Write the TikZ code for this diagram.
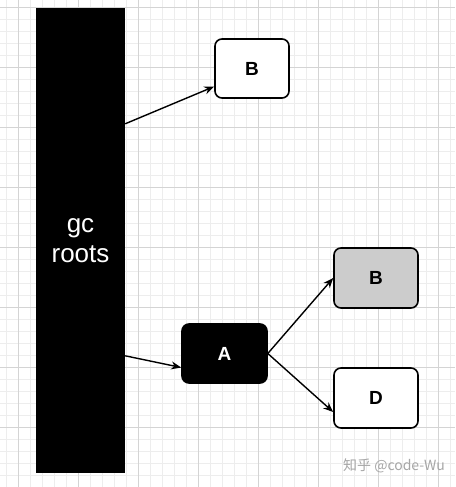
\documentclass[tikz,border=0pt]{standalone}
\usepackage{fontspec}
\setmainfont{Liberation Sans}
\newfontfamily\cjkfont{Noto Sans CJK SC}
\usetikzlibrary{arrows.meta, positioning}

\tikzset{
    objbox/.style={draw=black, line width=1.6pt, rounded corners=7pt, minimum width=84pt, minimum height=60pt, inner sep=0pt, font=\fontsize{19}{21}\selectfont\bfseries},
    refarrow/.style={-{Stealth[length=10pt, width=8pt]}, line width=1.4pt}
}

\begin{document}
\begin{tikzpicture}[x=1pt, y=-1pt]
    \useasboundingbox (0,0) rectangle (455,487);
    \fill[white] (0,0) rectangle (455,487);

    % grid
    \foreach \gx in {6,18,...,455} {
        \draw[black!7, line width=0.6pt] (\gx,0) -- (\gx,487);
    }
    \foreach \gy in {7,19,...,487} {
        \draw[black!7, line width=0.6pt] (0,\gy) -- (455,\gy);
    }
    \foreach \gx in {18,78,...,455} {
        \draw[black!17, line width=0.8pt] (\gx,0) -- (\gx,487);
    }
    \foreach \gy in {7,67,...,487} {
        \draw[black!17, line width=0.8pt] (0,\gy) -- (455,\gy);
    }

    % gc roots
    \node[fill=black, minimum width=89pt, minimum height=465pt, inner sep=0pt, text=white, align=center, font=\fontsize{26}{30}\selectfont] (roots) at (80.5,240.5) {gc\\roots};

    % objects
    \node[objbox, fill=white, minimum width=74pt, minimum height=59pt] (btop) at (252,68.5) {B};
    \node[objbox, fill=black, text=white, minimum width=85pt, minimum height=59pt] (a) at (224.5,353.5) {A};
    \node[objbox, fill=black!20] (bgray) at (376,278) {B};
    \node[objbox, fill=white] (d) at (376,398) {D};

    % references
    \draw[refarrow] ([yshift=-116pt]roots.north east) -- ([yshift=-18pt]btop.west);
    \draw[refarrow] ([yshift=-348pt]roots.north east) -- ([yshift=-14pt]a.west);
    \draw[refarrow] (a.east) -- (bgray.west);
    \draw[refarrow] (a.east) -- ([yshift=-14pt]d.west);

    % watermark
    \node[text=black!35, font=\fontsize{14}{16}\selectfont, inner sep=0pt] (mark) at (394,466) {\cjkfont 知乎 @code-Wu};
\end{tikzpicture}
\end{document}
